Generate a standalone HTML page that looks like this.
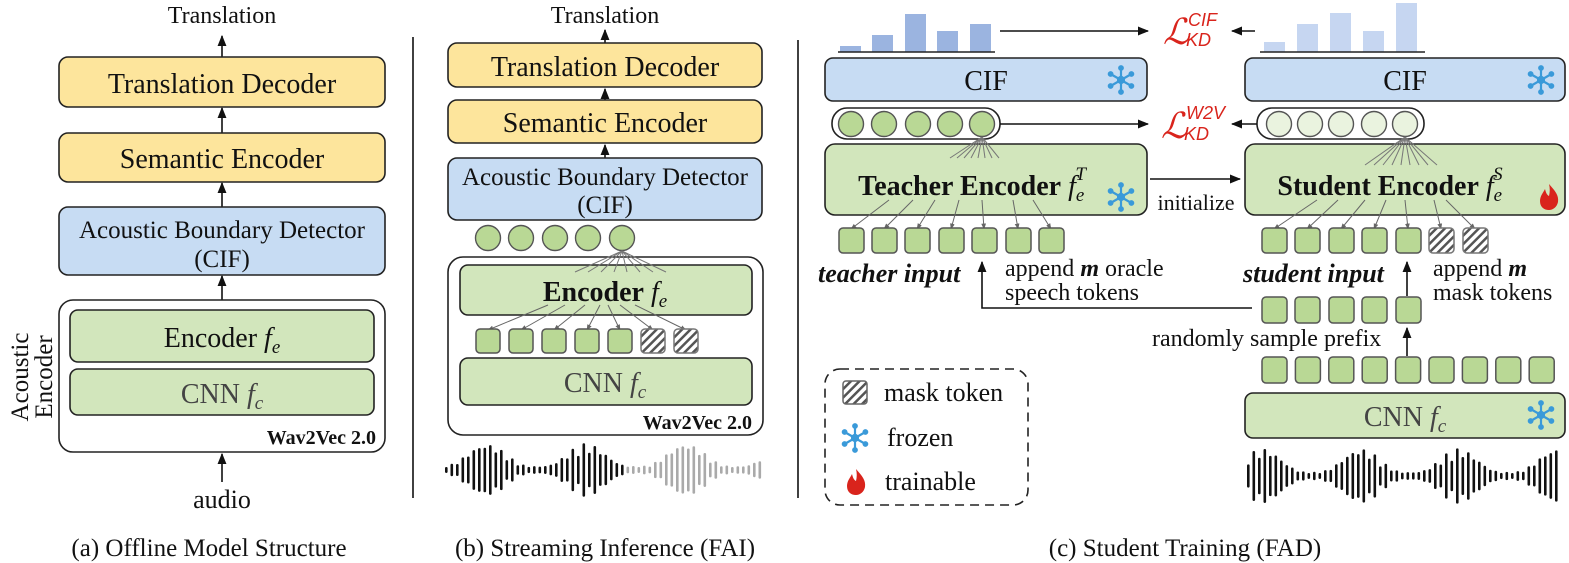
<!DOCTYPE html>
<html><head><meta charset="utf-8"><style>
html,body{margin:0;padding:0;background:#fff}
svg{display:block}
text{font-family:"Liberation Serif","DejaVu Serif",serif;fill:#111}
.i{font-style:italic}
.r{font-family:"Liberation Sans","DejaVu Sans",sans-serif;font-style:italic;fill:#d9241c}
</style></head><body>
<svg id="s" width="1569" height="563" viewBox="0 0 1569 563" xmlns="http://www.w3.org/2000/svg" font-family="Liberation Serif, DejaVu Serif, serif">
<defs>
<marker id="a" viewBox="0 0 10 10" refX="9" refY="5" markerWidth="7" markerHeight="7" orient="auto-start-reverse"><path d="M0,1 L10,5 L0,9 z" fill="#111"/></marker>
<marker id="g" viewBox="0 0 10 10" refX="9" refY="5" markerWidth="6" markerHeight="6" orient="auto"><path d="M0,1 L10,5 L0,9 z" fill="#666"/></marker>
<pattern id="h" width="6" height="6" patternUnits="userSpaceOnUse" patternTransform="rotate(45)"><rect width="6" height="6" fill="#fff"/><rect width="2.5" height="6" fill="#555"/></pattern>
<g id="snow" stroke="#3a9ad9" stroke-width="2.2" fill="#3a9ad9">
<line x1="0" y1="-12" x2="0" y2="12"/><line x1="-10.4" y1="-6" x2="10.4" y2="6"/><line x1="-10.4" y1="6" x2="10.4" y2="-6"/>
<circle r="3"/><circle cx="0" cy="-12" r="1.8"/><circle cx="0" cy="12" r="1.8"/><circle cx="10.4" cy="6" r="1.8"/><circle cx="-10.4" cy="6" r="1.8"/><circle cx="10.4" cy="-6" r="1.8"/><circle cx="-10.4" cy="-6" r="1.8"/>
</g>
<path id="fire" d="M0,-13 C6,-6 10,-2 9,5 C8,10 4,13 0,13 C-5,13 -9,10 -9,4 C-9,-1 -6,-4 -4,-8 C-3,-4 -2,-2 0,-1 C1,-5 1,-9 0,-13 z" fill="#d9241c"/>
</defs>

<!-- Panel a -->
<text x="222" y="23" font-size="24" text-anchor="middle">Translation</text>
<line x1="222" y1="57" x2="222" y2="36" stroke="#111" stroke-width="1.6" marker-end="url(#a)"/>
<rect x="59" y="57" width="326" height="50" rx="9" fill="#fde59c" stroke="#222" stroke-width="1.6"/>
<text x="222" y="93" font-size="28" text-anchor="middle">Translation Decoder</text>
<line x1="222" y1="133" x2="222" y2="108" stroke="#111" stroke-width="1.6" marker-end="url(#a)"/>
<rect x="59" y="133" width="326" height="49" rx="9" fill="#fde59c" stroke="#222" stroke-width="1.6"/>
<text x="222" y="168" font-size="28" text-anchor="middle">Semantic Encoder</text>
<line x1="222" y1="207" x2="222" y2="183" stroke="#111" stroke-width="1.6" marker-end="url(#a)"/>
<rect x="59" y="207" width="326" height="68" rx="9" fill="#c7dcf3" stroke="#222" stroke-width="1.6"/>
<text x="222" y="238" font-size="25" text-anchor="middle">Acoustic Boundary Detector</text>
<text x="222" y="267" font-size="25" text-anchor="middle">(CIF)</text>
<line x1="222" y1="300" x2="222" y2="276" stroke="#111" stroke-width="1.6" marker-end="url(#a)"/>
<rect x="59" y="300" width="326" height="152" rx="14" fill="#fff" stroke="#222" stroke-width="1.6"/>
<rect x="70" y="310" width="304" height="52" rx="8" fill="#d2e6bc" stroke="#222" stroke-width="1.6"/>
<text x="222" y="347" font-size="28" text-anchor="middle">Encoder <tspan class="i">f</tspan><tspan class="i" font-size="19" dy="6">e</tspan></text>
<rect x="70" y="369" width="304" height="46" rx="8" fill="#d2e6bc" stroke="#222" stroke-width="1.6"/>
<text x="222" y="403" font-size="28" text-anchor="middle" style="fill:#444">CNN <tspan class="i">f</tspan><tspan class="i" font-size="19" dy="6">c</tspan></text>
<text x="376" y="444" font-size="20" font-weight="bold" text-anchor="end">Wav2Vec 2.0</text>
<text transform="translate(28,377) rotate(-90)" font-size="25" text-anchor="middle">Acoustic</text>
<text transform="translate(52,377) rotate(-90)" font-size="25" text-anchor="middle">Encoder</text>
<line x1="222" y1="482" x2="222" y2="454" stroke="#111" stroke-width="1.6" marker-end="url(#a)"/>
<text x="222" y="508" font-size="26" text-anchor="middle">audio</text>
<text x="209" y="556" font-size="25" text-anchor="middle">(a) Offline Model Structure</text>

<line x1="413" y1="37" x2="413" y2="498" stroke="#111" stroke-width="1.6"/>
<line x1="798" y1="40" x2="798" y2="498" stroke="#111" stroke-width="1.6"/>

<!-- Panel b -->
<text x="605" y="23" font-size="24" text-anchor="middle">Translation</text>
<line x1="605" y1="43" x2="605" y2="30" stroke="#111" stroke-width="1.6" marker-end="url(#a)"/>
<rect x="448" y="43" width="314" height="44" rx="9" fill="#fde59c" stroke="#222" stroke-width="1.6"/>
<text x="605" y="76" font-size="28" text-anchor="middle">Translation Decoder</text>
<line x1="605" y1="100" x2="605" y2="89" stroke="#111" stroke-width="1.6" marker-end="url(#a)"/>
<rect x="448" y="100" width="314" height="43" rx="9" fill="#fde59c" stroke="#222" stroke-width="1.6"/>
<text x="605" y="132" font-size="28" text-anchor="middle">Semantic Encoder</text>
<line x1="605" y1="158" x2="605" y2="145" stroke="#111" stroke-width="1.6" marker-end="url(#a)"/>
<rect x="448" y="158" width="314" height="62" rx="9" fill="#c7dcf3" stroke="#222" stroke-width="1.6"/>
<text x="605" y="185" font-size="25" text-anchor="middle">Acoustic Boundary Detector</text>
<text x="605" y="213" font-size="25" text-anchor="middle">(CIF)</text>
<g id="bc"></g>
<rect x="448" y="257" width="315" height="178" rx="15" fill="#fff" stroke="#222" stroke-width="1.6"/>
<rect x="460" y="265" width="292" height="50" rx="8" fill="#d2e6bc" stroke="#222" stroke-width="1.6"/>
<text x="605" y="301" font-size="28" text-anchor="middle"><tspan font-weight="bold">Encoder</tspan> <tspan class="i">f</tspan><tspan class="i" font-size="19" dy="6">e</tspan></text>
<rect x="460" y="358" width="292" height="47" rx="8" fill="#d2e6bc" stroke="#222" stroke-width="1.6"/>
<text x="605" y="392" font-size="28" text-anchor="middle" style="fill:#444">CNN <tspan class="i">f</tspan><tspan class="i" font-size="19" dy="6">c</tspan></text>
<text x="752" y="429" font-size="20" font-weight="bold" text-anchor="end">Wav2Vec 2.0</text>
<g id="bfan"></g>
<text x="605" y="556" font-size="25" text-anchor="middle">(b) Streaming Inference (FAI)</text>

<!-- Panel c -->
<g id="cg"></g>
<line x1="838" y1="52" x2="995" y2="52" stroke="#222" stroke-width="1.5"/>
<line x1="1260" y1="52" x2="1425" y2="52" stroke="#222" stroke-width="1.5"/>
<line x1="1000" y1="31" x2="1148" y2="31" stroke="#111" stroke-width="1.6" marker-end="url(#a)"/>
<text x="1163" y="44" font-size="36" class="i" style="fill:#d9241c">ℒ</text>
<text x="1188" y="26" font-size="18" class="r">CIF</text>
<text x="1186" y="46" font-size="18" class="r">KD</text>
<line x1="1255" y1="31" x2="1232" y2="31" stroke="#111" stroke-width="1.6" marker-end="url(#a)"/>
<rect x="825" y="58" width="322" height="43" rx="8" fill="#c7dcf3" stroke="#222" stroke-width="1.6"/>
<text x="986" y="90" font-size="28" text-anchor="middle">CIF</text>
<use href="#snow" x="1121" y="80"/>
<rect x="1245" y="58" width="320" height="43" rx="8" fill="#c7dcf3" stroke="#222" stroke-width="1.6"/>
<text x="1405" y="90" font-size="28" text-anchor="middle">CIF</text>
<use href="#snow" x="1541" y="80"/>
<rect x="832" y="108" width="168" height="31" rx="15" fill="#fff" stroke="#222" stroke-width="1.6"/>
<rect x="1257" y="108" width="167" height="31" rx="15" fill="#fff" stroke="#222" stroke-width="1.6"/>
<line x1="1000" y1="124" x2="1148" y2="124" stroke="#111" stroke-width="1.6" marker-end="url(#a)"/>
<text x="1161" y="138" font-size="36" class="i" style="fill:#d9241c">ℒ</text>
<text x="1186" y="119" font-size="18" class="r">W2V</text>
<text x="1184" y="140" font-size="18" class="r">KD</text>
<line x1="1257" y1="124" x2="1232" y2="124" stroke="#111" stroke-width="1.6" marker-end="url(#a)"/>
<rect x="825" y="144" width="322" height="71" rx="10" fill="#d2e6bc" stroke="#222" stroke-width="1.6"/>
<text x="972" y="195" font-size="28" text-anchor="middle"><tspan font-weight="bold">Teacher Encoder</tspan> <tspan class="i">f</tspan><tspan class="i" font-size="19" dy="6">e</tspan><tspan class="i" font-size="19" dx="-9" dy="-21">T</tspan></text>
<use href="#snow" x="1121" y="197"/>
<line x1="1150" y1="179" x2="1240" y2="179" stroke="#111" stroke-width="1.6" marker-end="url(#a)"/>
<text x="1196" y="210" font-size="22" text-anchor="middle">initialize</text>
<rect x="1245" y="144" width="320" height="71" rx="10" fill="#d2e6bc" stroke="#222" stroke-width="1.6"/>
<text x="1390" y="195" font-size="28" text-anchor="middle"><tspan font-weight="bold">Student Encoder</tspan> <tspan class="i">f</tspan><tspan class="i" font-size="19" dy="6">e</tspan><tspan class="i" font-size="19" dx="-9" dy="-21">S</tspan></text>
<use href="#fire" x="1549" y="197"/>
<g id="cg2"></g>
<text x="818" y="282" font-size="26" font-weight="bold" class="i">teacher input</text>
<polyline points="1252,308 982,308 982,262" fill="none" stroke="#111" stroke-width="1.6" marker-end="url(#a)"/>
<text x="1005" y="276" font-size="24">append <tspan font-weight="bold" class="i">m</tspan> oracle</text>
<text x="1005" y="300" font-size="24">speech tokens</text>
<text x="1243" y="282" font-size="26" font-weight="bold" class="i">student input</text>
<line x1="1407" y1="296" x2="1407" y2="262" stroke="#111" stroke-width="1.6" marker-end="url(#a)"/>
<text x="1433" y="276" font-size="24">append <tspan font-weight="bold" class="i">m</tspan></text>
<text x="1433" y="300" font-size="24">mask tokens</text>
<text x="1152" y="346" font-size="24">randomly sample prefix</text>
<line x1="1407" y1="356" x2="1407" y2="328" stroke="#111" stroke-width="1.6" marker-end="url(#a)"/>
<rect x="1245" y="393" width="320" height="45" rx="8" fill="#d2e6bc" stroke="#222" stroke-width="1.6"/>
<text x="1405" y="426" font-size="28" text-anchor="middle" style="fill:#444">CNN <tspan class="i">f</tspan><tspan class="i" font-size="19" dy="6">c</tspan></text>
<use href="#snow" x="1541" y="415"/>
<rect x="825" y="369" width="203" height="136" rx="15" fill="none" stroke="#222" stroke-width="1.6" stroke-dasharray="9,6"/>
<rect x="843" y="381" width="24" height="23" rx="3" fill="url(#h)" stroke="#666" stroke-width="1.5"/>
<text x="884" y="401" font-size="26">mask token</text>
<use href="#snow" x="855" y="438"/>
<text x="887" y="446" font-size="26">frozen</text>
<use href="#fire" x="856" y="482"/>
<text x="885" y="490" font-size="26">trainable</text>
<text x="1185" y="556" font-size="25" text-anchor="middle">(c) Student Training (FAD)</text>
</svg>
<script>
var NS="http://www.w3.org/2000/svg",s=document.getElementById('s');
function el(t,a,p){var e=document.createElementNS(NS,t);for(var k in a)e.setAttribute(k,a[k]);(p||s).appendChild(e);return e;}
var G=document.getElementById('cg'),BC=document.getElementById('bc'),BF=document.getElementById('bfan'),G2=document.getElementById('cg2');
[488,521,555,588,622].forEach(function(x){el('circle',{cx:x,cy:238,r:12.5,fill:'#b9d895',stroke:'#555','stroke-width':1.4},BC);});
for(var i=0;i<8;i++){el('line',{x1:622,y1:251,x2:575+i*13,y2:272,stroke:'#777','stroke-width':1},BF);}
var bsx=[476,509,542,575,608,641,674],bfrom=[548,565,585,600,608,620,635];
bsx.forEach(function(x,i){el('line',{x1:bfrom[i],y1:305,x2:x+12,y2:330,stroke:'#666','stroke-width':1,'marker-end':'url(#g)'},BF);
el('rect',{x:x,y:329,width:24,height:24,rx:4,fill:i<5?'#b9d895':'url(#h)',stroke:i<5?'#555':'#777','stroke-width':1.5},BF);});
function wave(x0,x1,cy,maxh,grayFrom,parent,seed){var n=Math.floor((x1-x0)/5.5);for(var i=0;i<n;i++){var x=x0+i*5.5,t=i/n;
var env=0.15+0.85*Math.pow(Math.abs(Math.sin(t*Math.PI*3.2+seed)),3);var h=Math.max(3,maxh*env*(0.55+0.45*Math.abs(Math.sin(i*1.7))));
el('rect',{x:x,y:cy-h,width:2.6,height:2*h,rx:1.2,fill:(grayFrom&&x>grayFrom)?'#aaa':'#111'},parent);}}
wave(445,765,470,27,625,BF,0.3);
[[840,46],[872,35],[905,14],[937,31],[970,24]].forEach(function(b){el('rect',{x:b[0],y:b[1],width:21,height:52-b[1],fill:'#9bb4e0'},G);});
[[1264,42],[1297,24],[1330,13],[1363,31],[1396,3]].forEach(function(b){el('rect',{x:b[0],y:b[1],width:21,height:52-b[1],fill:'#c6d6f1'},G);});
[851,884,918,950,982].forEach(function(x){el('circle',{cx:x,cy:124,r:12.5,fill:'#b9d895',stroke:'#555','stroke-width':1.4},G2);});
[1279,1310,1341,1374,1405].forEach(function(x){el('circle',{cx:x,cy:124,r:12.5,fill:'#eaf3df',stroke:'#555','stroke-width':1.4},G2);});
for(var i=0;i<8;i++){el('line',{x1:982,y1:137,x2:950+i*7,y2:158,stroke:'#777','stroke-width':1},G2);}
for(var i=0;i<9;i++){el('line',{x1:1405,y1:137,x2:1365+i*9,y2:165,stroke:'#777','stroke-width':1},G2);}
var tx=[839,872,905,939,972,1006,1039],tf=[889,913,935,959,982,1013,1033];
tx.forEach(function(x,i){el('line',{x1:tf[i],y1:200,x2:x+12,y2:229,stroke:'#666','stroke-width':1,'marker-end':'url(#g)'},G2);
el('rect',{x:x,y:228,width:25,height:25,rx:4,fill:'#b9d895',stroke:'#555','stroke-width':1.5},G2);});
var sx=[1262,1295,1329,1362,1396,1429,1463],sf=[1317,1338,1365,1386,1405,1434,1446];
sx.forEach(function(x,i){el('line',{x1:sf[i],y1:200,x2:x+12,y2:229,stroke:'#666','stroke-width':1,'marker-end':'url(#g)'},G2);
el('rect',{x:x,y:228,width:25,height:25,rx:4,fill:i<5?'#b9d895':'url(#h)',stroke:i<5?'#555':'#777','stroke-width':1.5},G2);});
[1262,1295,1329,1362,1396].forEach(function(x){el('rect',{x:x,y:297,width:25,height:26,rx:4,fill:'#b9d895',stroke:'#555','stroke-width':1.5},G2);});
for(var i=0;i<9;i++){el('rect',{x:1262+i*33.4,y:357,width:25,height:26,rx:4,fill:'#b9d895',stroke:'#555','stroke-width':1.5},G2);}
wave(1247,1565,476,28,0,G2,1.1);
</script>
</body></html>
